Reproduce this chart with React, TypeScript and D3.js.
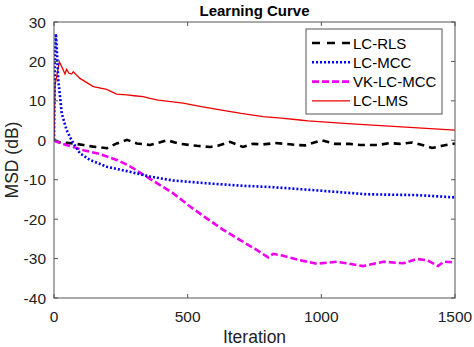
import React from "react";
import * as d3 from "d3";

const xTicks = [0, 500, 1000, 1500];
const yTicks = [-40, -30, -20, -10, 0, 10, 20, 30];

const rlsIter = [0, 20, 72, 110, 146, 198, 235, 273, 310, 359, 423, 471, 535, 584, 613, 658, 707, 744, 782, 827, 864, 909, 939, 1002, 1051, 1107, 1145, 1212, 1257, 1294, 1339, 1388, 1414, 1452, 1500];
const rlsVal = [0, -0.5, -0.8, -1.2, -1.6, -2.0, -0.8, 0.1, -0.8, -1.2, 0.0, -0.9, -1.4, -1.7, -1.4, -0.4, -1.7, -0.9, -1.05, -0.7, -0.9, -1.2, -1.3, 0.0, -0.9, -0.9, -1.2, -1.2, -0.7, -0.9, -0.55, -1.4, -1.95, -1.4, -0.8];

const mccIter = [0, 3, 7, 10, 16, 29, 47, 66, 97, 135, 197, 284, 359, 445, 571, 696, 820, 983, 1170, 1357, 1500];
const mccVal = [0, 20, 27, 24, 15.3, 6.8, 2.6, 0, -3.3, -5, -6.7, -8, -9.2, -10.2, -10.9, -11.5, -11.9, -12.7, -13.7, -13.9, -14.5];

const vkIter = [0, 10, 110, 172, 235, 270, 297, 322, 359, 445, 509, 571, 633, 696, 758, 801, 820, 858, 920, 983, 1058, 1157, 1232, 1307, 1357, 1395, 1437, 1457, 1500];
const vkVal = [0, -0.4, -2.5, -3.5, -5.0, -6.1, -7.1, -8.2, -9.8, -13.4, -16.8, -19.8, -22.7, -25.3, -27.8, -29.7, -28.8, -29.3, -30.4, -31.3, -30.8, -31.9, -30.8, -31.2, -30.1, -30.4, -31.9, -30.8, -31];

const lmsIter = [0, 2, 4, 20, 30, 41, 47, 56, 66, 72, 97, 147, 197, 234, 272, 300, 334, 359, 390, 483, 546, 621, 700, 782, 850, 920, 950, 1100, 1300, 1500];
const lmsVal = [0, 8, 14, 19.9, 18.5, 16.8, 18, 17, 16.8, 17.4, 15.7, 13.6, 12.9, 11.7, 11.5, 11.3, 11.1, 10.6, 10.2, 9.4, 8.6, 7.7, 6.8, 6.0, 5.6, 5.15, 4.9, 4.2, 3.4, 2.6];

const seriesNames = ["LC-RLS", "LC-MCC", "VK-LC-MCC", "LC-LMS"];

const W = 474, H = 347;
const L = 54, R = 455, T = 22, B = 298;
const FONT = "'Liberation Sans', Arial, Helvetica, sans-serif";
const AX = "#555";

export default function App() {
  const x = d3.scaleLinear().domain([0, 1500]).range([L, R]);
  const y = d3.scaleLinear().domain([-40, 30]).range([B, T]);
  const line = d3.line<[number, number]>().x(d => x(d[0])).y(d => y(d[1]));
  const mk = (it: number[], v: number[]) => it.map((d, i) => [d, v[i]] as [number, number]);

  const styles = [
    { data: mk(rlsIter, rlsVal), color: "#000", width: 2.6, dash: "7,5" },
    { data: mk(mccIter, mccVal), color: "#0000ee", width: 2.6, dash: "2,2" },
    { data: mk(vkIter, vkVal), color: "#ee00ee", width: 2.6, dash: "7,3" },
    { data: mk(lmsIter, lmsVal), color: "#ee0000", width: 1.3, dash: "" },
  ];
  const drawOrder = [3, 0, 2, 1];

  const legX = 306, legY = 29, legW = 136, legH = 85;

  return (
    <svg width={W} height={H} style={{ position: "absolute", left: 0, top: 0, background: "#fff" }} fontFamily={FONT}>
      <defs>
        <clipPath id="plot">
          <rect x={L} y={T} width={R - L} height={B - T} />
        </clipPath>
      </defs>
      <rect x={0} y={0} width={W} height={H} fill="#fff" />
      <text x={(L + R) / 2} y={16} textAnchor="middle" fontWeight="bold" fontSize={15} fill="#000">Learning Curve</text>

      <g clipPath="url(#plot)">
        {drawOrder.map(i => (
          <path key={i} d={line(styles[i].data) || ""} fill="none" stroke={styles[i].color}
            strokeWidth={styles[i].width} strokeDasharray={styles[i].dash || undefined} />
        ))}
      </g>

      <rect x={L} y={T} width={R - L} height={B - T} fill="none" stroke={AX} strokeWidth={1} />
      {xTicks.map(t => (
        <g key={"x" + t}>
          <line x1={x(t)} x2={x(t)} y1={B} y2={B - 4} stroke={AX} />
          <line x1={x(t)} x2={x(t)} y1={T} y2={T + 4} stroke={AX} />
          <text x={x(t)} y={322} textAnchor="middle" fontSize={15.5} fill="#222">{t}</text>
        </g>
      ))}
      {yTicks.map(t => (
        <g key={"y" + t}>
          <line x1={L} x2={L + 4} y1={y(t)} y2={y(t)} stroke={AX} />
          <line x1={R} x2={R - 4} y1={y(t)} y2={y(t)} stroke={AX} />
          <text x={46} y={y(t) + 5.5} textAnchor="end" fontSize={15.5} fill="#222">{t}</text>
        </g>
      ))}
      <text x={(L + R) / 2} y={343} textAnchor="middle" fontSize={17.5} fill="#222">Iteration</text>
      <text transform={`translate(18,${(T + B) / 2}) rotate(-90)`} textAnchor="middle" fontSize={17.5} fill="#222">MSD (dB)</text>

      <rect x={legX} y={legY} width={legW} height={legH} fill="#fff" stroke={AX} strokeWidth={1} />
      {seriesNames.map((n, i) => {
        const ly = 43 + i * 19.3;
        const s = styles[i];
        return (
          <g key={n}>
            <line x1={312} x2={350} y1={ly} y2={ly} stroke={s.color} strokeWidth={s.width}
              strokeDasharray={i === 0 ? "8,7" : s.dash || undefined} />
            <text x={353} y={ly + 5.5} fontSize={15} fill="#000">{n}</text>
          </g>
        );
      })}
    </svg>
  );
}
